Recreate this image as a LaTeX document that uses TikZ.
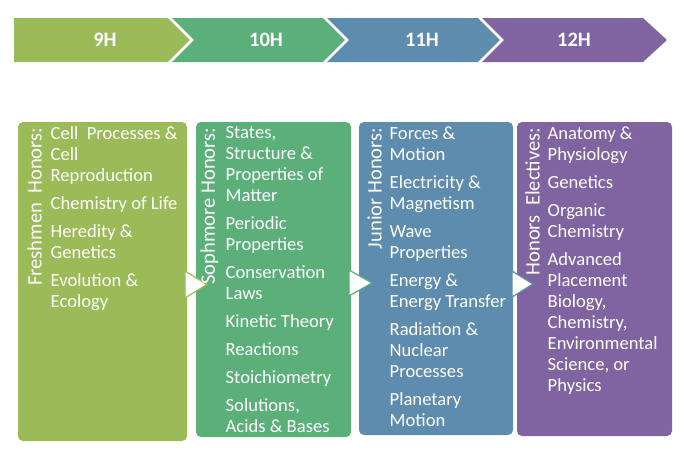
\documentclass[tikz,border=0pt]{standalone}
\usepackage{fontspec}
\setmainfont{Carlito}
\definecolor{cA}{HTML}{9BBB59}
\definecolor{cB}{HTML}{5BB07A}
\definecolor{cC}{HTML}{5E8CAE}
\definecolor{cD}{HTML}{8064A2}
\begin{document}
\begin{tikzpicture}[x=1pt,y=-1pt,
  sep/.style={draw=white,line width=2.5pt},
  bartext/.style={text=white,font=\fontsize{20.5}{24}\selectfont\bfseries,inner sep=0pt},
  box/.style={rounded corners=5pt,inner sep=0pt,outer sep=0pt,anchor=north west},
  items/.style={text=white,font=\fontsize{18.6}{21}\selectfont,align=left,inner sep=0pt,anchor=north west},
  vlabel/.style={text=white,font=\fontsize{20.6}{24}\selectfont,rotate=90,anchor=east,inner sep=0pt},
  tri/.style={fill=white,line width=1.2pt,line join=miter}]
\useasboundingbox (0,0) rectangle (689,458);
\fill[white] (0,0) rectangle (689,458);
% top chevrons
\fill[cA] (14,18) -- (168,18) -- (192,40) -- (168,62) -- (14,62) -- cycle;
\fill[cB] (168,18) -- (323,18) -- (347,40) -- (323,62) -- (168,62) -- (192,40) -- cycle;
\fill[cC] (323,18) -- (478,18) -- (502,40) -- (478,62) -- (323,62) -- (347,40) -- cycle;
\fill[cD] (478,18) -- (643,18) -- (667,40) -- (643,62) -- (478,62) -- (502,40) -- cycle;
\draw[sep] (168,16) -- (192,40) -- (168,64);
\draw[sep] (323,16) -- (347,40) -- (323,64);
\draw[sep] (478,16) -- (502,40) -- (478,64);
\node[bartext] (h9) at (105,40) {9H};
\node[bartext] (h10) at (266,40) {10H};
\node[bartext] (h11) at (422,40) {11H};
\node[bartext] (h12) at (574,40) {12H};
% boxes
\node[box,fill=cA,minimum width=169pt,minimum height=319pt] (b1) at (18,122) {};
\node[box,fill=cB,minimum width=155pt,minimum height=315pt] (b2) at (196,122) {};
\node[box,fill=cC,minimum width=154pt,minimum height=313pt] (b3) at (359,122) {};
\node[box,fill=cD,minimum width=155pt,minimum height=314pt] (b4) at (517,122) {};
% triangles
\filldraw[tri,draw=cA] (185,271) -- (207,284.5) -- (185,298) -- cycle;
\filldraw[tri,draw=cB] (349,270) -- (372,283) -- (349,296) -- cycle;
\filldraw[tri,draw=cC] (512,271) -- (533,284) -- (512,297) -- cycle;
% vertical labels
\node[vlabel] (l1) at (34.5,127.5) {Freshmen\ \ Honors:};
\node[vlabel] (l2) at (209.5,127.5) {Sophmore Honors:};
\node[vlabel] (l3) at (374.5,127.5) {Junior Honors:};
\node[vlabel] (l4) at (532.5,127.5) {Honors\ \ Electives:};
% items
\node[items] (i1) at (50.5,126.5) {Cell\ \ Processes \&\\Cell\\Reproduction\\[7pt]Chemistry of Life\\[7pt]Heredity \&\\Genetics\\[7pt]Evolution \&\\Ecology};
\node[items] (i2) at (225.5,126.5) {States,\\Structure \&\\Properties of\\Matter\\[7pt]Periodic\\Properties\\[7pt]Conservation\\Laws\\[7pt]Kinetic Theory\\[7pt]Reactions\\[7pt]Stoichiometry\\[7pt]Solutions,\\Acids \& Bases};
\node[items] (i3) at (389.5,126.5) {Forces \&\\Motion\\[7pt]Electricity \&\\Magnetism\\[7pt]Wave\\Properties\\[7pt]Energy \&\\Energy Transfer\\[7pt]Radiation \&\\Nuclear\\Processes\\[7pt]Planetary\\Motion};
\node[items] (i4) at (547.5,126.5) {Anatomy \&\\Physiology\\[7pt]Genetics\\[7pt]Organic\\Chemistry\\[7pt]Advanced\\Placement\\Biology,\\Chemistry,\\Environmental\\Science, or\\Physics};
\end{tikzpicture}
\end{document}
